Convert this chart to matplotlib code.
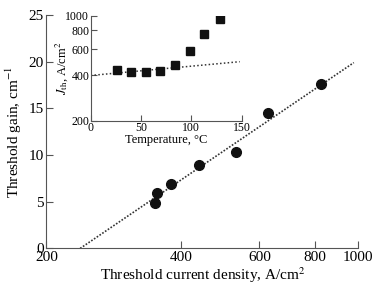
import numpy as np
import matplotlib
matplotlib.use("Agg")
import matplotlib.pyplot as plt
from matplotlib.ticker import FixedLocator, FixedFormatter, NullLocator

plt.rcParams['font.family'] = ['Liberation Serif', 'DejaVu Serif']
plt.rcParams['mathtext.fontset'] = 'stix'

# main plot: threshold gain vs threshold current density
current_density = [350, 354, 380, 440, 532, 628, 825]
gain = [4.85, 5.9, 6.85, 8.9, 10.3, 14.5, 17.6]
fit_current = [238, 977]
fit_gain = [0.0, 19.9]
x_ticks = [200, 400, 600, 800, 1000]
y_ticks = [0, 5, 10, 15, 20, 25]

# inset: Jth vs temperature
temperature = [26, 40, 54.5, 68.5, 84, 99, 113, 128]
jth = [435, 422, 422, 428, 470, 583, 755, 955]
fit_temp = [0, 148]
fit_jth = [400, 494]

axcol = '#555555'

fig = plt.figure(figsize=(3.77, 2.89), dpi=100)
ax = fig.add_axes([0.1233, 0.1405, 0.8271, 0.8075])
ax.plot(fit_current, fit_gain, ls=(0, (1, 1)), color='#333333', lw=1.2)
ax.plot(current_density, gain, 'o', color='#111111', ms=7)
ax.set_xscale('log')
ax.set_xlim(200, 1000)
ax.set_ylim(0, 25)
ax.xaxis.set_major_locator(FixedLocator(x_ticks))
ax.xaxis.set_major_formatter(FixedFormatter([str(t) for t in x_ticks]))
ax.xaxis.set_minor_locator(NullLocator())
ax.set_yticks(y_ticks)
for s in ['top', 'right']:
    ax.spines[s].set_visible(False)
for s in ['left', 'bottom']:
    ax.spines[s].set_color(axcol)
ax.tick_params(direction='in', length=5, color=axcol, labelsize=11, pad=2)
ax.set_xlabel('Threshold current density, A/cm$^2$', fontsize=11, labelpad=1)
ax.set_ylabel('Threshold gain, cm$^{-1}$', fontsize=11, labelpad=3)

ins = fig.add_axes([0.2406, 0.5824, 0.4005, 0.3633])
ins.plot(fit_temp, fit_jth, ls=(0, (1, 1.5)), color='#333333', lw=1.1)
ins.plot(temperature, jth, 's', color='#111111', ms=5.5)
ins.set_yscale('log')
ins.set_xlim(0, 150)
ins.set_ylim(200, 1000)
ins.set_xticks([0, 50, 100, 150])
ins.yaxis.set_major_locator(FixedLocator([200, 400, 600, 800, 1000]))
ins.yaxis.set_major_formatter(FixedFormatter(['200', '400', '600', '800', '1000']))
ins.yaxis.set_minor_locator(NullLocator())
ins.patch.set_alpha(0)
for s in ['top', 'right']:
    ins.spines[s].set_visible(False)
for s in ['left', 'bottom']:
    ins.spines[s].set_color(axcol)
ins.tick_params(direction='in', length=4, color=axcol, labelsize=8.5, pad=1)
ins.set_xlabel('Temperature, °C', fontsize=9, labelpad=0)
ins.set_ylabel(r'$J_{\rm th}$, A/cm$^2$', fontsize=9, labelpad=-3)

fig.savefig('out.png', dpi=100)
